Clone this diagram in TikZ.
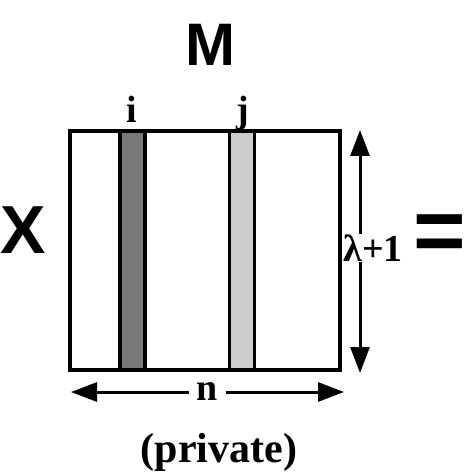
\documentclass[tikz,border=0pt]{standalone}
\usepackage{fontspec}
\setmainfont{Liberation Serif}
\setsansfont{Liberation Sans}
\usetikzlibrary{arrows.meta,positioning}
\definecolor{darkcol}{gray}{0.47}
\definecolor{lightcol}{gray}{0.8}
\tikzset{
  colbox/.style={draw, line width=3.5bp, minimum width=25bp, minimum height=239bp, inner sep=0pt},
  dimarrow/.style={line width=3bp, {Triangle[width=19bp,length=26bp]}-{Triangle[width=19bp,length=26bp]}},
  lbl/.style={font=\fontsize{38bp}{42bp}\selectfont\bfseries, inner sep=2bp},
  big/.style={font=\fontsize{60bp}{64bp}\selectfont\sffamily\bfseries},
}

\begin{document}
\begin{tikzpicture}[x=1bp,y=-1bp]
  \useasboundingbox (0,0) rectangle (474,474);
  % Title
  \node[big] (M) at (210,45) {M};
  \node[big, font=\fontsize{68bp}{72bp}\selectfont\sffamily\bfseries] (X) at (23,230) {X};
  \node[big, font=\fontsize{90bp}{94bp}\selectfont\sffamily\bfseries] (eq) at (440,238) {=};
  % Columns i and j
  \node[colbox, fill=darkcol] (ci) at (132.5,250.5) {};
  \node[colbox, fill=lightcol] (cj) at (242,250.5) {};
  \node[lbl, anchor=base] (i) at (132,123) {i};
  \node[lbl, anchor=base] (j) at (243,123) {j};
  % Matrix frame
  \node[draw, line width=4bp, minimum width=270bp, minimum height=239bp, inner sep=0pt] (mat) at (205,250.5) {};
  % Height
  \coordinate (vt) at (360,130);
  \coordinate (vb) at (360,373);
  \draw[dimarrow] (vt) -- (vb);
  \node[lbl, fill=white, inner sep=1bp] (lam) at (373,248) {λ+1};
  % Width
  \coordinate (hl) at (71,392);
  \coordinate (hr) at (344,392);
  \draw[dimarrow] (hl) -- (hr) node[midway, lbl, fill=white, inner xsep=8bp] (n) {n};
  \node[lbl, font=\fontsize{42bp}{46bp}\selectfont\bfseries] (priv) at (219,452) {(private)};
\end{tikzpicture}
\end{document}
